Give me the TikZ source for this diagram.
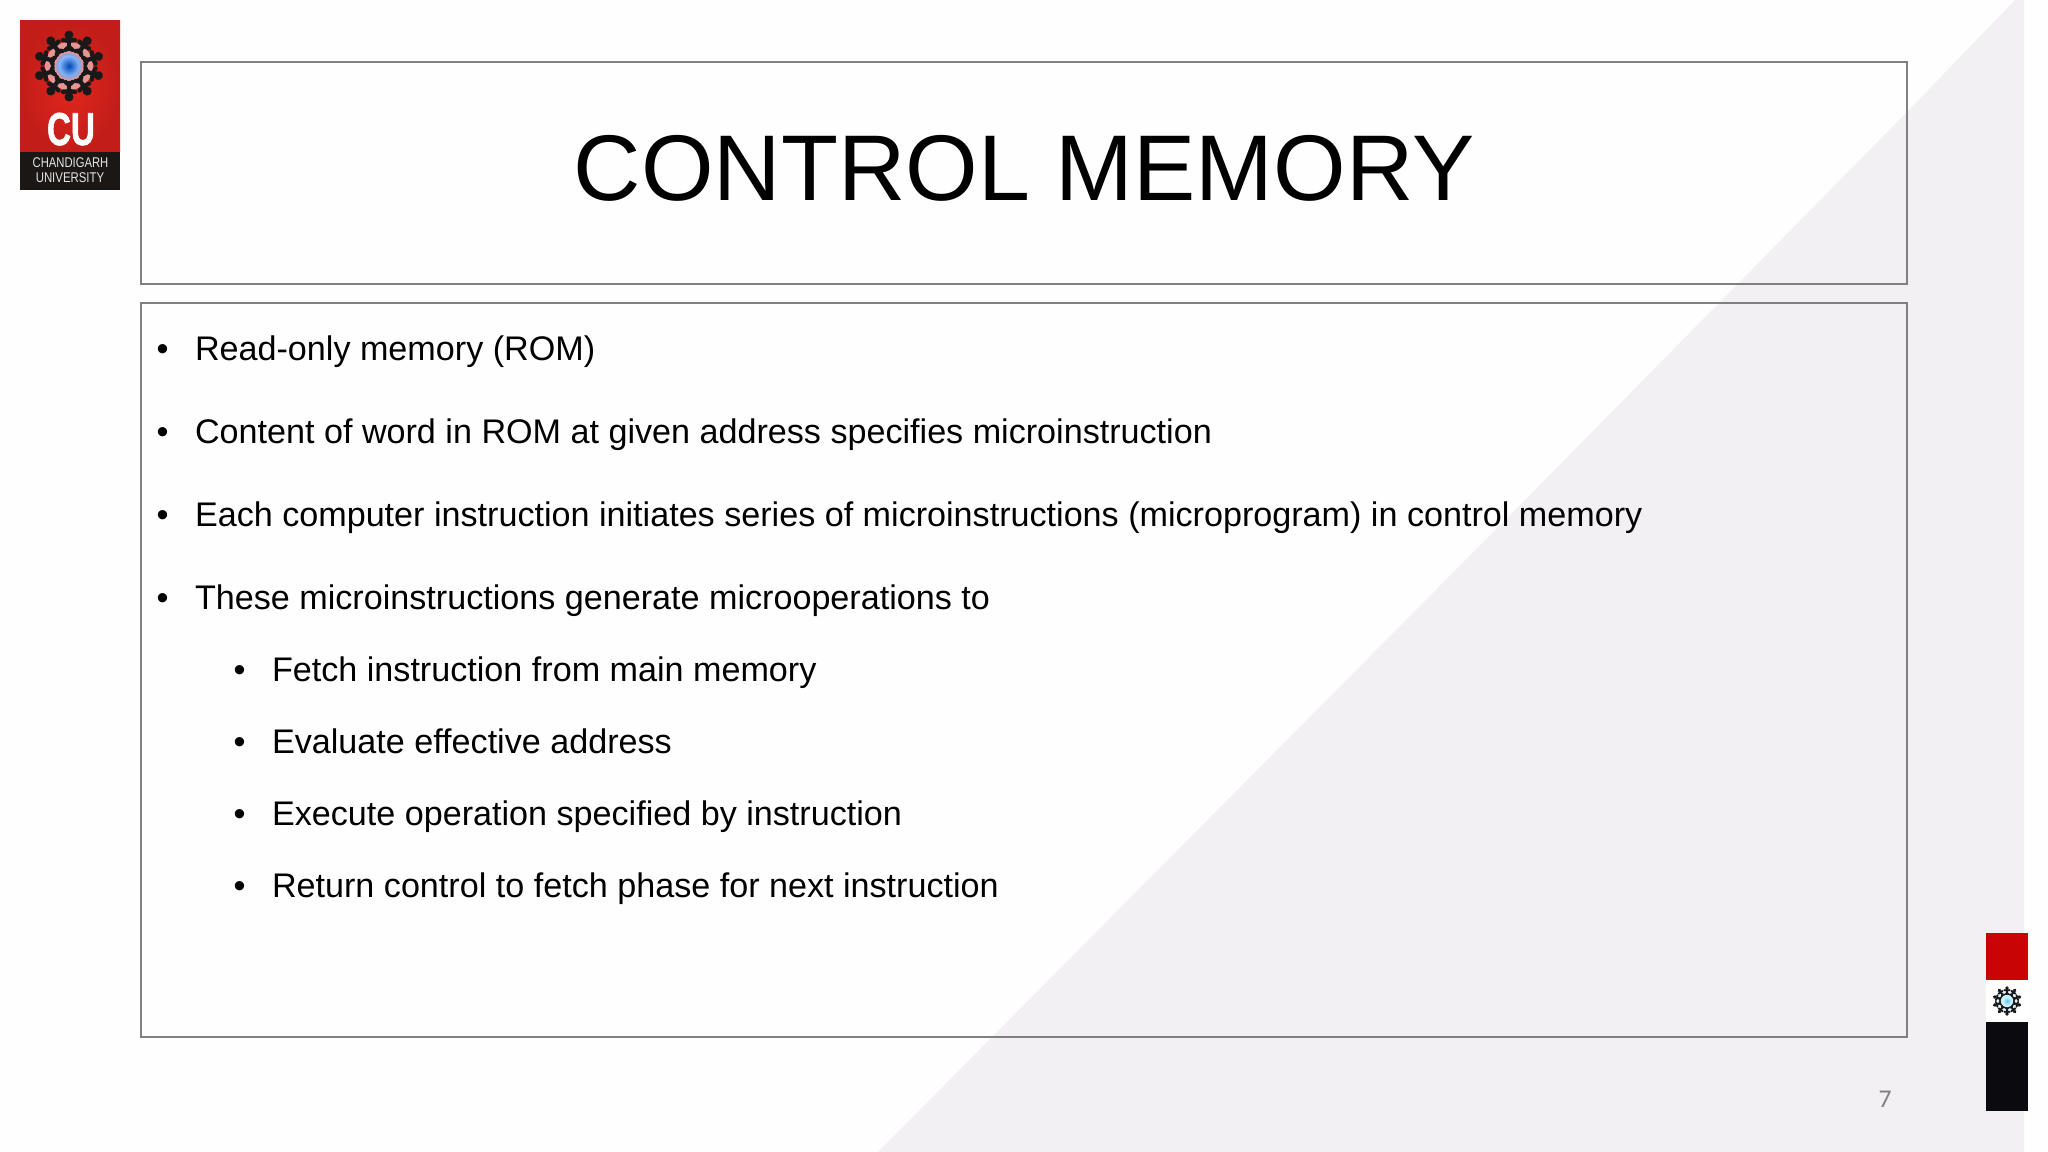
\documentclass[tikz,border=0pt]{standalone}
\usepackage{fontspec}
\setmainfont{Liberation Sans}
\newfontfamily\pagefont{Carlito}
\usetikzlibrary{positioning}

\newcommand{\pxu}{0.46875pt}
\newcommand{\bulletitem}[1]{\makebox[17.5pt][l]{\hspace*{-.5pt}•}#1}
\definecolor{slidegrey}{HTML}{F2F0F3}
\definecolor{boxgrey}{HTML}{808080}
\definecolor{cured}{HTML}{C80404}
\definecolor{cublack}{HTML}{0B0B0F}
\definecolor{logored}{HTML}{C21D18}
\definecolor{logoglow}{HTML}{E2261F}
\definecolor{logoband}{HTML}{1B1715}

\tikzset{
    slidebox/.style={draw=boxgrey,line width=1.15pt,inner sep=0pt},
    itemtext/.style={anchor=base west,inner sep=0pt,font=\fontsize{16pt}{19pt}\selectfont},
    logotext/.style={anchor=base,inner sep=0pt,text=black!10,font=\fontsize{6.6pt}{8pt}\selectfont},
}

\newcommand{\cuemblem}[7]{
    \begin{scope}[shift={(#1,#2)},scale=#3]
        \fill[#6] (0,0) circle (24);
        \foreach \a in {18,54,...,342}{
            \begin{scope}[rotate=\a,shift={(21,0)},line width=#7,line cap=round,draw=black!90,fill=black!90]
                \fill (10,0) circle (4.5);
                \draw (8,0) -- (-4,0);
                \draw (5,-6) -- (4,0) -- (5,6);
                \draw (-5,-3.5) -- (-2,0) -- (-5,3.5);
            \end{scope}
        }
        \fill[#5] (0,0) circle (13);
        \shade[inner color=#4,outer color=#5] (0,0) circle (10.5);
    \end{scope}
}

\begin{document}
\begin{tikzpicture}[x=\pxu,y=-\pxu]
    \useasboundingbox (0,0) rectangle (2048,1152);
    \fill[white!99.5!black] (0,0) rectangle (2048,1152);
    \fill[slidegrey] (878,1152) -- (1533,492) -- (1907,112) -- (2015,0) -- (2024,0) -- (2024,1152) -- cycle;

    \node[slidebox,minimum width=1766*\pxu,minimum height=222*\pxu] (titlebox) at (1024,173) {};
    \node[slidebox,minimum width=1766*\pxu,minimum height=734*\pxu] (bodybox) at (1024,670) {};

    \node[anchor=base,inner sep=0pt,font=\fontsize{43.75pt}{53pt}\selectfont] (title) at (1024,200.5) {CONTROL MEMORY};

    \node[itemtext] (rom) at (157.3,360.8) {\bulletitem{Read-only memory (ROM)}};
    \node[itemtext] (word) at (157.3,443) {\bulletitem{Content of word in ROM at given address specifies microinstruction}};
    \node[itemtext] (series) at (157.3,526) {\bulletitem{Each computer instruction initiates series of microinstructions (microprogram) in control memory}};
    \node[itemtext] (generate) at (157.3,609) {\bulletitem{These microinstructions generate microoperations to}};
    \node[itemtext] (fetch) at (234.3,681) {\bulletitem{Fetch instruction from main memory}};
    \node[itemtext] (evaluate) at (234.3,753) {\bulletitem{Evaluate effective address}};
    \node[itemtext] (execute) at (234.3,825.5) {\bulletitem{Execute operation specified by instruction}};
    \node[itemtext] (return) at (234.3,897.5) {\bulletitem{Return control to fetch phase for next instruction}};

    \node[anchor=base,inner sep=0pt,text=black!50,font=\pagefont\fontsize{12pt}{14pt}\selectfont] (pagenum) at (1885,1107) {7};

    % logo
    \shade[inner color=logoglow,outer color=logored] (20,21) rectangle (120,152);
    \fill[logoband] (20,152) rectangle (120,190);
    \cuemblem{69}{66}{1}{blue!60!cyan!70!black}{cyan!40!blue!45!white}{red!35!white!90!black}{2pt}
    \node[anchor=base,inner sep=0pt,text=white,xscale=.72,font=\bfseries\addfontfeature{FakeBold=1.5}\fontsize{21.6pt}{24pt}\selectfont] (cu) at (71,145) {CU};
    \node[logotext,xscale=.8] (chandigarh) at (70.5,168) {CHANDIGARH};
    \node[logotext,xscale=.81] (university) at (70,183) {UNIVERSITY};

    % side strip
    \fill[white] (1986,980) rectangle (2028,1022);
    \fill[cured] (1986,933) rectangle (2028,980);
    \fill[cublack] (1986,1022) rectangle (2028,1111);
    \cuemblem{2007}{1001}{.42}{cyan!50!blue!55!white}{cyan!25!white}{cyan!12!white}{.9pt}
\end{tikzpicture}
\end{document}
